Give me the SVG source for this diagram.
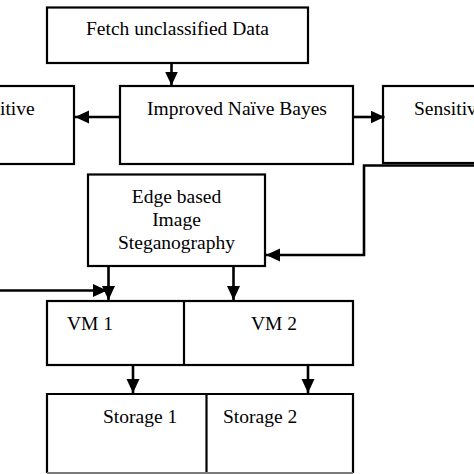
<svg xmlns="http://www.w3.org/2000/svg" width="474" height="474" viewBox="0 0 474 474">
<style>
  .box { fill: #ffffff; stroke: #000000; stroke-width: 2.2; }
  .lbl { font-family: "Liberation Serif", "Times New Roman", serif; font-size: 19.5px; fill: #000000; }
  .mid { text-anchor: middle; }
  .conn { fill: none; stroke: #000000; stroke-width: 2.6; }
</style>
<defs>
  <marker id="arr" markerUnits="userSpaceOnUse" markerWidth="15" markerHeight="14" refX="14" refY="6.5" orient="auto">
    <path d="M0,0 L14,6.5 L0,13 z" fill="#000000"/>
  </marker>
</defs>
<rect width="474" height="474" fill="#ffffff"/>

<g id="fetch">
  <rect class="box" x="47" y="7.5" width="261" height="55.5"/>
  <text class="lbl mid" x="177.5" y="35">Fetch unclassified Data</text>
</g>

<g id="improved">
  <rect class="box" x="120" y="86" width="233" height="78"/>
  <text class="lbl mid" x="237" y="115">Improved Naïve Bayes</text>
</g>

<g id="nonsensitive">
  <rect class="box" x="-50" y="86" width="124" height="78"/>
  <text class="lbl" x="0" y="115">itive</text>
</g>

<g id="sensitive">
  <rect class="box" x="383" y="86" width="120" height="77"/>
  <text class="lbl" x="414" y="115">Sensitive</text>
</g>

<g id="edge">
  <rect class="box" x="88" y="174.5" width="177" height="91.5"/>
  <text class="lbl mid" x="176.5" y="203">Edge based</text>
  <text class="lbl mid" x="176.5" y="226">Image</text>
  <text class="lbl mid" x="176.5" y="249">Steganography</text>
</g>

<g id="vm">
  <rect class="box" x="47" y="301" width="306" height="64"/>
  <line x1="184" y1="301" x2="184" y2="365" stroke="#000000" stroke-width="2.2"/>
  <text class="lbl" x="67" y="330">VM 1</text>
  <text class="lbl" x="251" y="330">VM 2</text>
</g>

<g id="storage">
  <path d="M47,473 V394 H353 V473" fill="#ffffff" stroke="#000000" stroke-width="2.2"/>
  <line x1="206.5" y1="394" x2="206.5" y2="473" stroke="#000000" stroke-width="2.2"/>
  <line x1="47" y1="473" x2="353" y2="473" stroke="#7a7a7a" stroke-width="2"/>
  <text class="lbl" x="103" y="423">Storage 1</text>
  <text class="lbl" x="223" y="423">Storage 2</text>
</g>

<g id="connectors">
  <path class="conn" d="M171.5,63 V85.5" marker-end="url(#arr)"/>
  <path class="conn" d="M120,117 H75" marker-end="url(#arr)"/>
  <path class="conn" d="M353,117 H384.5" marker-end="url(#arr)"/>
  <path class="conn" d="M480,165.5 H364 V255 H266" marker-end="url(#arr)"/>
  <path class="conn" d="M108.5,266 V300" marker-end="url(#arr)"/>
  <path class="conn" d="M233.5,266 V300" marker-end="url(#arr)"/>
  <path class="conn" d="M0,290.5 H107" marker-end="url(#arr)"/>
  <path class="conn" d="M133,365 V393" marker-end="url(#arr)"/>
  <path class="conn" d="M308,365 V393" marker-end="url(#arr)"/>
</g>
</svg>
